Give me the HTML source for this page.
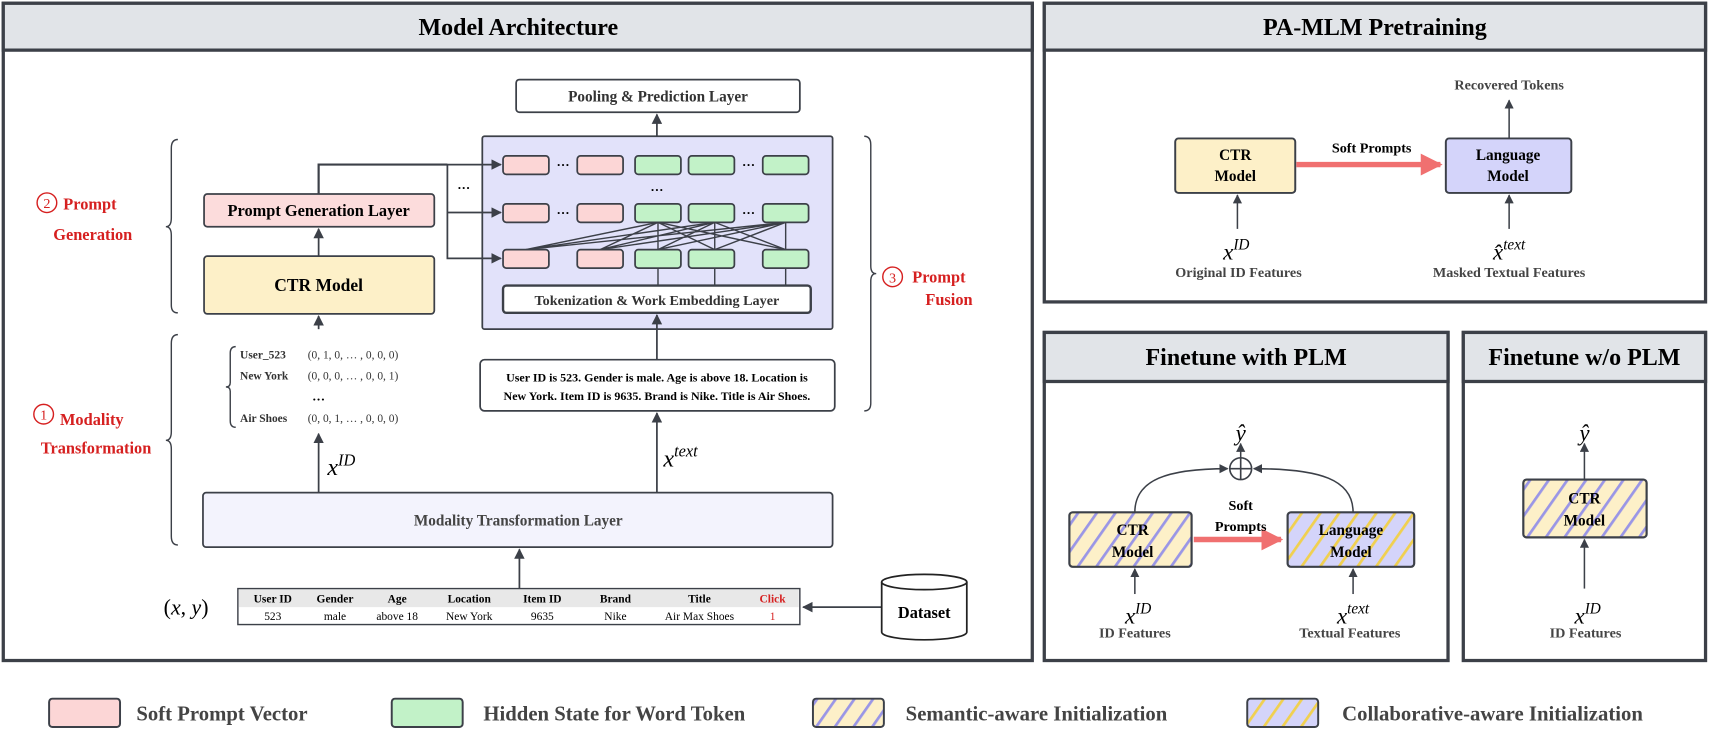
<!DOCTYPE html>
<html><head><meta charset="utf-8"><style>
html,body{margin:0;padding:0;background:#fff;}
svg{display:block;}
text{font-family:"Liberation Serif",serif;}
.b{font-weight:bold;}
.s{font-family:"Liberation Sans",sans-serif;}
</style></head><body>
<svg width="1711" height="739" viewBox="0 0 1568 678" preserveAspectRatio="none" xmlns="http://www.w3.org/2000/svg">
<defs>
<marker id="ar" viewBox="0 0 10 10" refX="9" refY="5" markerWidth="6" markerHeight="6" orient="auto-start-reverse"><path d="M0,0 L10,5 L0,10 z" fill="#3c4048"/></marker>
<marker id="rr" viewBox="0 0 10 10" refX="9" refY="5" markerWidth="4" markerHeight="4" orient="auto"><path d="M0,0 L10,5 L0,10 z" fill="#f07070"/></marker>
<pattern id="hs" patternUnits="userSpaceOnUse" width="14" height="14" patternTransform="rotate(35)"><rect width="14" height="14" fill="#fdf0c8"/><rect width="2.5" height="14" fill="#9a96e6"/></pattern>
<pattern id="hc" patternUnits="userSpaceOnUse" width="14" height="14" patternTransform="rotate(35)"><rect width="14" height="14" fill="#d4d4fa"/><rect width="2.5" height="14" fill="#f0d050"/></pattern>
</defs>
<g stroke="#3c4048" fill="none" stroke-width="2">
<rect x="3" y="3" width="943" height="603" fill="#fff" stroke-width="3"/>
<rect x="3" y="3" width="943" height="43" fill="#e1e4e8" stroke-width="3"/>
<rect x="957" y="3" width="606" height="274" fill="#fff" stroke-width="3"/>
<rect x="957" y="3" width="606" height="43" fill="#e1e4e8" stroke-width="3"/>
<rect x="957" y="305" width="370" height="301" fill="#fff" stroke-width="3"/>
<rect x="957" y="305" width="370" height="45" fill="#e1e4e8" stroke-width="3"/>
<rect x="1341" y="305" width="222" height="301" fill="#fff" stroke-width="3"/>
<rect x="1341" y="305" width="222" height="45" fill="#e1e4e8" stroke-width="3"/>
</g>
<text x="475" y="32" text-anchor="middle" class="b" font-size="22">Model  Architecture</text>
<text x="1260" y="32" text-anchor="middle" class="b" font-size="22">PA-MLM  Pretraining</text>
<text x="1142" y="335" text-anchor="middle" class="b" font-size="22">Finetune with PLM</text>
<text x="1452" y="335" text-anchor="middle" class="b" font-size="22">Finetune w/o PLM</text>

<g stroke="#3c4048" stroke-width="1.6">
<rect x="473" y="73" width="260" height="30" rx="3" fill="#fff"/>
<rect x="442" y="125" width="321" height="177" rx="2" fill="#e2e2fa"/>
<rect x="187" y="178" width="211" height="30" rx="3" fill="#fcdcdc"/>
<rect x="187" y="235" width="211" height="53" rx="3" fill="#fdf0c8"/>
<rect x="186" y="452" width="577" height="50" rx="3" fill="#f3f3fd"/>
<rect x="440" y="330" width="325" height="47" rx="4" fill="#fff"/>
<rect x="461" y="262" width="282" height="25" rx="3" fill="#fff" stroke-width="2.2"/>
</g>
<text x="603" y="93" text-anchor="middle" class="b" font-size="14" fill="#333">Pooling &amp; Prediction Layer</text>
<text x="292" y="198" text-anchor="middle" class="b" font-size="15">Prompt Generation Layer</text>
<text x="292" y="267" text-anchor="middle" class="b" font-size="16">CTR Model</text>
<text x="475" y="482" text-anchor="middle" class="b" font-size="14" fill="#444">Modality Transformation Layer</text>
<text x="602" y="280" text-anchor="middle" class="b" font-size="13" fill="#333">Tokenization &amp; Work Embedding Layer</text>
<text x="602" y="350" text-anchor="middle" class="b" font-size="11">User ID is 523. Gender is male. Age is above 18. Location is</text>
<text x="602" y="367" text-anchor="middle" class="b" font-size="11">New York. Item ID is 9635. Brand is Nike. Title is Air Shoes.</text>

<g stroke="#3c4048" stroke-width="1.6">
<g fill="#fcd6d6">
<rect x="461" y="143" width="42" height="17" rx="3"/><rect x="529" y="143" width="42" height="17" rx="3"/>
<rect x="461" y="187" width="42" height="17" rx="3"/><rect x="529" y="187" width="42" height="17" rx="3"/>
<rect x="461" y="229" width="42" height="17" rx="3"/><rect x="529" y="229" width="42" height="17" rx="3"/>
</g>
<g fill="#c2f2c8">
<rect x="582" y="143" width="42" height="17" rx="3"/><rect x="631" y="143" width="42" height="17" rx="3"/><rect x="699" y="143" width="42" height="17" rx="3"/>
<rect x="582" y="187" width="42" height="17" rx="3"/><rect x="631" y="187" width="42" height="17" rx="3"/><rect x="699" y="187" width="42" height="17" rx="3"/>
<rect x="582" y="229" width="42" height="17" rx="3"/><rect x="631" y="229" width="42" height="17" rx="3"/><rect x="699" y="229" width="42" height="17" rx="3"/>
</g>
</g>
<g class="b" font-size="12" text-anchor="middle">
<text x="516" y="155">···</text><text x="686" y="155">···</text>
<text x="516" y="199">···</text><text x="686" y="199">···</text>
<text x="602" y="178">···</text><text x="425" y="176">···</text>
<text x="292" y="370">···</text>
</g>
<g stroke="#3c4048" stroke-width="1.3" fill="none">
<path d="M482,229 L603,204 M482,229 L655,204 M482,229 L720,204 M550,229 L603,204 M550,229 L655,204 M550,229 L720,204 M603,229 L655,204 M603,229 L720,204 M655,229 L603,204 M655,229 L720,204 M720,229 L603,204 M720,229 L655,204 M603,229 L603,204 M655,229 L655,204 M720,229 L720,204 M603,246 L603,262 M655,246 L655,262 M720,246 L720,262"/>
</g>
<g stroke="#3c4048" stroke-width="2" fill="none">
<path d="M292,178 L292,151 L410,151"/>
</g>
<g stroke="#3c4048" stroke-width="1.6" fill="none" marker-end="url(#ar)">
<path d="M405,151 L459,151"/>
<path d="M410,151 L410,195 L459,195"/>
<path d="M410,195 L410,237 L459,237"/>
<path d="M602,125 L602,105"/>
<path d="M292,235 L292,210"/>
<path d="M292,302 L292,290"/>
<path d="M292,452 L292,398"/>
<path d="M602,452 L602,379"/>
<path d="M602,330 L602,289"/>
<path d="M476,540 L476,504"/>
<path d="M808,557 L736,557"/>
</g>
<g stroke="#3c4048" stroke-width="1.3" fill="none">
<path d="M163,128 Q157,128 157,136 L157,200 Q157,208 152,208 Q157,208 157,216 L157,280 Q157,287 163,287"/>
<path d="M163,307 Q157,307 157,315 L157,396 Q157,404 152,404 Q157,404 157,412 L157,492 Q157,500 163,500"/>
<path d="M792,125 Q798,125 798,133 L798,244 Q798,251 803,251 Q798,251 798,258 L798,370 Q798,377 792,377"/>
<path d="M216,318 Q211,318 211,324 L211,351 Q211,355 207,355 Q211,355 211,359 L211,386 Q211,392 216,392"/>
</g>
<g fill="#d62020" class="b" font-size="15">
<circle cx="43" cy="186" r="9" fill="none" stroke="#d62020" stroke-width="1.3"/><text x="43" y="191" text-anchor="middle" font-size="13" font-weight="normal">2</text>
<text x="58" y="192">Prompt</text><text x="85" y="220" text-anchor="middle">Generation</text>
<circle cx="40" cy="380" r="9" fill="none" stroke="#d62020" stroke-width="1.3"/><text x="40" y="385" text-anchor="middle" font-size="13" font-weight="normal">1</text>
<text x="55" y="390">Modality</text><text x="88" y="416" text-anchor="middle">Transformation</text>
<circle cx="818" cy="254" r="9" fill="none" stroke="#d62020" stroke-width="1.3"/><text x="818" y="259" text-anchor="middle" font-size="13" font-weight="normal">3</text>
<text x="836" y="259">Prompt</text><text x="848" y="280">Fusion</text>
</g>
<g class="b" font-size="10.5" fill="#333">
<text x="220" y="329">User_523</text><text x="282" y="329" font-weight="normal">(0, 1, 0, … , 0, 0, 0)</text>
<text x="220" y="348">New York</text><text x="282" y="348" font-weight="normal">(0, 0, 0, … , 0, 0, 1)</text>
<text x="220" y="387">Air Shoes</text><text x="282" y="387" font-weight="normal">(0, 0, 1, … , 0, 0, 0)</text>
</g>
<g font-style="italic" font-size="22">
<text x="300" y="436">x<tspan font-size="15" dy="-9">ID</tspan></text>
<text x="608" y="428">x<tspan font-size="15" dy="-9">text</tspan></text>
<text x="150" y="564" font-style="normal" font-size="20">(<tspan font-style="italic">x</tspan>, <tspan font-style="italic">y</tspan>)</text>
</g>
<rect x="218" y="540" width="515" height="33" fill="#fff" stroke="#3c4048" stroke-width="1.3"/>
<rect x="219" y="541" width="513" height="16" fill="#e8e8e8"/>
<g class="s" font-size="10.5" text-anchor="middle">
<g font-weight="bold"><text x="250" y="553">User ID</text><text x="307" y="553">Gender</text><text x="364" y="553">Age</text><text x="430" y="553">Location</text><text x="497" y="553">Item ID</text><text x="564" y="553">Brand</text><text x="641" y="553">Title</text><text x="708" y="553" fill="#d62020">Click</text></g>
<text x="250" y="569">523</text><text x="307" y="569">male</text><text x="364" y="569">above 18</text><text x="430" y="569">New York</text><text x="497" y="569">9635</text><text x="564" y="569">Nike</text><text x="641" y="569">Air Max Shoes</text><text x="708" y="569" fill="#d62020">1</text>
</g>
<g stroke="#222" stroke-width="1.6" fill="#fff">
<path d="M808,534 L808,580 A39,7 0 0 0 886,580 L886,534"/>
<ellipse cx="847" cy="534" rx="39" ry="7"/>
</g>
<text x="847" y="567" text-anchor="middle" class="b" font-size="15">Dataset</text>

<g stroke="#3c4048" stroke-width="1.8">
<rect x="1077" y="127" width="110" height="50" rx="3" fill="#fdf0c8"/>
<rect x="1325" y="127" width="115" height="50" rx="3" fill="#d4d4fa"/>
</g>
<line x1="1188" y1="151" x2="1320" y2="151" stroke="#f07070" stroke-width="5" marker-end="url(#rr)"/>
<g class="b" font-size="14" text-anchor="middle">
<text x="1132" y="147">CTR</text><text x="1132" y="166">Model</text>
<text x="1382" y="147">Language</text><text x="1382" y="166">Model</text>
<text x="1257" y="140" font-size="13">Soft Prompts</text>
<g fill="#444" font-size="13"><text x="1383" y="82">Recovered Tokens</text><text x="1135" y="254">Original ID Features</text><text x="1383" y="254">Masked Textual Features</text></g>
</g>
<g stroke="#3c4048" stroke-width="1.4" fill="none" marker-end="url(#ar)">
<path d="M1383,127 L1383,92"/><path d="M1134,210 L1134,179"/><path d="M1383,210 L1383,179"/>
<path d="M1040,545 L1040,522"/><path d="M1240,545 L1240,522"/>
<path d="M1452,540 L1452,495"/><path d="M1452,440 L1452,407"/>
<path d="M1137,420 L1137,407"/>
<path d="M1040,470 C1040,440 1070,430 1125,430"/><path d="M1240,470 C1240,440 1210,430 1149,430"/>
</g>
<g font-style="italic" font-size="21" text-anchor="middle">
<text x="1133" y="238">x<tspan font-size="14" dy="-9">ID</tspan></text>
<text x="1383" y="238">x̂<tspan font-size="14" dy="-9">text</tspan></text>
<text x="1043" y="572">x<tspan font-size="14" dy="-9">ID</tspan></text>
<text x="1240" y="572">x<tspan font-size="14" dy="-9">text</tspan></text>
<text x="1455" y="572">x<tspan font-size="14" dy="-9">ID</tspan></text>
<text x="1137" y="404">ŷ</text><text x="1452" y="404">ŷ</text>
</g>
<circle cx="1137" cy="430" r="10" fill="#fff" stroke="#3c4048" stroke-width="1.5"/>
<path d="M1127,430 H1147 M1137,420 V440" stroke="#3c4048" stroke-width="1.5"/>
<g stroke="#3c4048" stroke-width="2">
<rect x="980" y="470" width="112" height="50" rx="3" fill="url(#hs)"/>
<rect x="1180" y="470" width="116" height="50" rx="3" fill="url(#hc)"/>
<rect x="1396" y="440" width="113" height="53" rx="3" fill="url(#hs)"/>
</g>
<line x1="1094" y1="495" x2="1174" y2="495" stroke="#f07070" stroke-width="5" marker-end="url(#rr)"/>
<g class="b" font-size="14" text-anchor="middle">
<text x="1038" y="491">CTR</text><text x="1038" y="511">Model</text>
<text x="1238" y="491">Language</text><text x="1238" y="511">Model</text>
<text x="1137" y="468" font-size="13">Soft</text><text x="1137" y="487" font-size="13">Prompts</text>
<text x="1452" y="462">CTR</text><text x="1452" y="482">Model</text>
<g fill="#444" font-size="13"><text x="1040" y="585">ID Features</text><text x="1237" y="585">Textual Features</text><text x="1453" y="585">ID Features</text></g>
</g>
<g stroke="#3c4048" stroke-width="1.8">
<rect x="45" y="641" width="65" height="26" rx="3" fill="#fcd6d6"/>
<rect x="359" y="641" width="65" height="26" rx="3" fill="#c2f2c8"/>
<rect x="745" y="641" width="65" height="26" rx="3" fill="url(#hs)"/>
<rect x="1143" y="641" width="65" height="26" rx="3" fill="url(#hc)"/>
</g>
<g class="b" font-size="19" fill="#444">
<text x="125" y="661">Soft Prompt Vector</text>
<text x="443" y="661">Hidden State for Word Token</text>
<text x="830" y="661">Semantic-aware Initialization</text>
<text x="1230" y="661">Collaborative-aware Initialization</text>
</g>
</svg>
</body></html>
